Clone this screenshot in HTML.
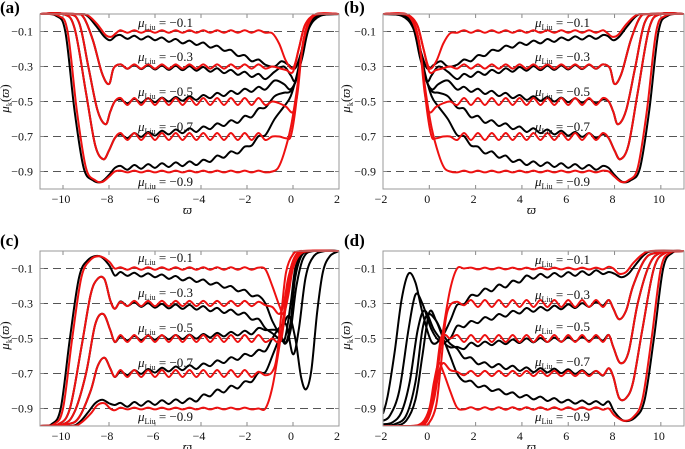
<!DOCTYPE html>
<html><head><meta charset="utf-8">
<style>
html,body{margin:0;padding:0;background:#fff;}
svg{display:block;font-family:"Liberation Serif",serif;}
svg text{font-family:"Liberation Serif",serif;}
</style></head>
<body>
<svg id="chart" width="685" height="449" viewBox="0 0 685 449" font-family="Liberation Serif, serif" xmlns="http://www.w3.org/2000/svg"></svg>
<script>
// ---------- data ----------
const rippleX = [-7.5,-7.2,-6.9,-6.6,-6.3,-6.0,-5.7,-5.4,-5.1,-4.8,-4.5,-4.2,-3.9,-3.6,-3.3,-3.0,-2.7,-2.4,-2.1,-1.8,-1.5,-1.2];
const yTicks = [-0.1,-0.3,-0.5,-0.7,-0.9];
const yTickLabels = ["\u22120.1","\u22120.3","\u22120.5","\u22120.7","\u22120.9"];
const xTicksLeft = [-10,-8,-6,-4,-2,0,2];
const xTicksRight = [-2,0,2,4,6,8,10];
const muLabels = ["\u22120.1","\u22120.3","\u22120.5","\u22120.7","\u22120.9"];

// panel (a) red curves
const aRedPre = [
 [[-11,0],[-9.3,0],[-8.9,-0.01],[-8.5,-0.06],[-8.15,-0.12],[-7.9,-0.13],[-7.7,-0.11]],
 [[-11,0],[-9.5,0],[-9.1,-0.02],[-8.7,-0.15],[-8.3,-0.34],[-8.0,-0.40],[-7.8,-0.31]],
 [[-11,0],[-9.8,0],[-9.3,-0.05],[-8.9,-0.3],[-8.5,-0.55],[-8.15,-0.63],[-7.95,-0.56],[-7.75,-0.50]],
 [[-11,0],[-10,0],[-9.5,-0.08],[-9.0,-0.45],[-8.6,-0.75],[-8.25,-0.83],[-8.0,-0.78],[-7.75,-0.71]],
 [[-11,0],[-10.2,-0.01],[-9.8,-0.1],[-9.4,-0.55],[-9.0,-0.88],[-8.6,-0.95],[-8.3,-0.96],[-8.0,-0.93],[-7.75,-0.9]]
];
const aRedRip = [
 [-0.093,-0.107,-0.093,-0.107,-0.093,-0.107,-0.093,-0.107,-0.093,-0.107,-0.093,-0.107,-0.093,-0.107,-0.093,-0.107,-0.093,-0.107,-0.093,-0.107,-0.093,-0.107],
 [-0.288,-0.312,-0.288,-0.312,-0.288,-0.312,-0.288,-0.312,-0.288,-0.312,-0.288,-0.312,-0.288,-0.312,-0.288,-0.312,-0.288,-0.312,-0.288,-0.312,-0.288,-0.312],
 [-0.48,-0.52,-0.48,-0.52,-0.48,-0.52,-0.48,-0.52,-0.48,-0.52,-0.48,-0.52,-0.48,-0.52,-0.48,-0.52,-0.48,-0.52,-0.48,-0.52,-0.48,-0.52],
 [-0.68,-0.72,-0.68,-0.72,-0.68,-0.72,-0.68,-0.72,-0.68,-0.72,-0.68,-0.72,-0.68,-0.72,-0.68,-0.72,-0.68,-0.72,-0.68,-0.72,-0.68,-0.72],
 [-0.895,-0.905,-0.895,-0.905,-0.895,-0.905,-0.895,-0.905,-0.895,-0.905,-0.895,-0.905,-0.895,-0.905,-0.895,-0.905,-0.895,-0.905,-0.895,-0.905,-0.895,-0.905]
];
const aRedPost = [
 [[-0.9,-0.11],[-0.6,-0.17],[-0.3,-0.27],[0,-0.31],[0.25,-0.2],[0.5,-0.07],[0.8,-0.015],[1.2,0],[2,0]],
 [[-0.9,-0.3],[-0.6,-0.31],[-0.3,-0.32],[0,-0.33],[0.25,-0.2],[0.5,-0.07],[0.8,-0.015],[1.2,0],[2,0]],
 [[-0.9,-0.5],[-0.6,-0.51],[-0.3,-0.53],[0,-0.56],[0.2,-0.45],[0.45,-0.15],[0.8,-0.02],[1.2,0],[2,0]],
 [[-0.9,-0.7],[-0.6,-0.7],[-0.3,-0.71],[-0.1,-0.7],[0.1,-0.55],[0.35,-0.25],[0.6,-0.07],[1,0],[2,0]],
 [[-0.9,-0.9],[-0.65,-0.88],[-0.4,-0.8],[-0.1,-0.65],[0.15,-0.45],[0.4,-0.2],[0.7,-0.05],[1.1,0],[2,0]]
];
// panel (a) black curves
const aBlackPre = [
 [[-11,0],[-9.35,0],[-8.95,-0.01],[-8.55,-0.07],[-8.2,-0.13],[-7.95,-0.15],[-7.7,-0.125]],
 [[-11,0],[-9.5,0],[-9.1,-0.02],[-8.7,-0.15],[-8.3,-0.34],[-8.0,-0.40],[-7.8,-0.31]],
 [[-11,0],[-9.8,0],[-9.3,-0.05],[-8.9,-0.3],[-8.5,-0.55],[-8.15,-0.63],[-7.95,-0.56],[-7.75,-0.50]],
 [[-11,0],[-10,0],[-9.5,-0.08],[-9.0,-0.45],[-8.6,-0.75],[-8.25,-0.83],[-8.0,-0.78],[-7.75,-0.71]],
 [[-11,0],[-10.3,-0.01],[-9.9,-0.1],[-9.5,-0.55],[-9.1,-0.88],[-8.7,-0.95],[-8.35,-0.96],[-8.0,-0.92],[-7.75,-0.88]]
];
const aBlackRip = [
 [-0.120,-0.142,-0.124,-0.146,-0.128,-0.150,-0.134,-0.159,-0.143,-0.168,-0.152,-0.177,-0.163,-0.192,-0.181,-0.210,-0.205,-0.240,-0.235,-0.270,-0.260,-0.290],
 [-0.288,-0.313,-0.290,-0.315,-0.292,-0.317,-0.294,-0.319,-0.296,-0.321,-0.298,-0.324,-0.303,-0.330,-0.310,-0.338,-0.319,-0.348,-0.330,-0.360,-0.342,-0.372],
 [-0.488,-0.510,-0.485,-0.507,-0.482,-0.504,-0.478,-0.500,-0.474,-0.496,-0.470,-0.491,-0.463,-0.481,-0.451,-0.469,-0.439,-0.457,-0.427,-0.445,-0.416,-0.432],
 [-0.688,-0.709,-0.681,-0.702,-0.674,-0.695,-0.667,-0.688,-0.660,-0.681,-0.653,-0.674,-0.643,-0.658,-0.625,-0.640,-0.607,-0.622,-0.582,-0.590,-0.540,-0.535],
 [-0.868,-0.890,-0.863,-0.884,-0.858,-0.879,-0.853,-0.874,-0.848,-0.869,-0.842,-0.863,-0.833,-0.845,-0.809,-0.821,-0.785,-0.797,-0.758,-0.752,-0.698,-0.692]
];
const aBlackPost = [
 [[-0.8,-0.3],[-0.5,-0.27],[-0.2,-0.29],[0.1,-0.31],[0.4,-0.2],[0.7,-0.06],[1.1,-0.01],[2,0]],
 [[-0.8,-0.33],[-0.4,-0.3],[-0.1,-0.35],[0.1,-0.38],[0.4,-0.25],[0.7,-0.08],[1.2,-0.01],[2,0]],
 [[-0.8,-0.38],[-0.4,-0.40],[-0.1,-0.43],[0.2,-0.35],[0.5,-0.15],[0.8,-0.04],[1.2,0],[2,0]],
 [[-0.8,-0.47],[-0.4,-0.45],[-0.1,-0.44],[0.2,-0.35],[0.5,-0.15],[0.8,-0.03],[1.2,0],[2,0]],
 [[-0.8,-0.6],[-0.4,-0.53],[-0.1,-0.47],[0.2,-0.33],[0.5,-0.13],[0.8,-0.03],[1.2,0],[2,0]]
];

// panel (c) red curves
const cRedPre = [
 [[-11,-1],[-10.4,-0.99],[-10,-0.9],[-9.6,-0.5],[-9.2,-0.15],[-8.8,-0.05],[-8.4,-0.03],[-8.0,-0.06],[-7.75,-0.1]],
 [[-11,-1],[-10.2,-0.99],[-9.7,-0.9],[-9.2,-0.55],[-8.8,-0.25],[-8.5,-0.16],[-8.2,-0.16],[-7.95,-0.28],[-7.75,-0.33]],
 [[-11,-1],[-10,-0.99],[-9.5,-0.92],[-9.0,-0.7],[-8.6,-0.42],[-8.25,-0.36],[-7.95,-0.45],[-7.75,-0.52]],
 [[-11,-1],[-9.8,-0.99],[-9.3,-0.95],[-8.8,-0.8],[-8.5,-0.66],[-8.2,-0.61],[-7.95,-0.67],[-7.75,-0.72]],
 [[-11,-1],[-9.6,-1],[-9.2,-0.98],[-8.8,-0.93],[-8.5,-0.88],[-8.2,-0.87],[-7.95,-0.9],[-7.75,-0.91]]
];
const cRedRip = [
 [-0.093,-0.107,-0.093,-0.107,-0.093,-0.107,-0.093,-0.107,-0.093,-0.107,-0.093,-0.107,-0.093,-0.107,-0.093,-0.107,-0.093,-0.107,-0.093,-0.107,-0.095,-0.105],
 [-0.29,-0.315,-0.285,-0.315,-0.285,-0.315,-0.285,-0.315,-0.285,-0.315,-0.285,-0.315,-0.285,-0.315,-0.285,-0.315,-0.285,-0.315,-0.285,-0.315,-0.29,-0.31],
 [-0.48,-0.52,-0.48,-0.52,-0.48,-0.52,-0.48,-0.52,-0.48,-0.52,-0.48,-0.52,-0.48,-0.52,-0.48,-0.52,-0.48,-0.52,-0.48,-0.52,-0.48,-0.52],
 [-0.68,-0.72,-0.68,-0.72,-0.68,-0.72,-0.68,-0.72,-0.68,-0.72,-0.68,-0.72,-0.68,-0.72,-0.68,-0.72,-0.68,-0.72,-0.68,-0.72,-0.69,-0.71],
 [-0.895,-0.905,-0.895,-0.905,-0.895,-0.905,-0.895,-0.905,-0.895,-0.905,-0.895,-0.905,-0.895,-0.905,-0.895,-0.905,-0.895,-0.905,-0.895,-0.905,-0.9,-0.9]
];
const cRedPost = [
 [[-0.9,-0.2],[-0.6,-0.31],[-0.4,-0.36],[-0.2,-0.25],[0,-0.1],[0.3,-0.02],[0.8,0],[2,0]],
 [[-0.9,-0.32],[-0.6,-0.36],[-0.4,-0.3],[-0.2,-0.15],[0.1,-0.03],[0.5,0],[2,0]],
 [[-0.9,-0.5],[-0.7,-0.52],[-0.5,-0.5],[-0.3,-0.3],[-0.1,-0.1],[0.2,-0.01],[0.6,0],[2,0]],
 [[-0.9,-0.69],[-0.7,-0.6],[-0.5,-0.35],[-0.3,-0.12],[0,-0.02],[0.4,0],[2,0]],
 [[-0.9,-0.78],[-0.6,-0.55],[-0.3,-0.27],[0,-0.07],[0.3,-0.01],[0.7,0],[2,0]]
];
// panel (c) black curves
const cBlackPre = [
 [[-11,-1],[-10.5,-0.99],[-10.1,-0.9],[-9.7,-0.5],[-9.3,-0.15],[-8.9,-0.05],[-8.4,-0.03],[-8.0,-0.08],[-7.75,-0.14]],
 [[-11,-1],[-10.2,-0.99],[-9.7,-0.9],[-9.2,-0.55],[-8.8,-0.25],[-8.5,-0.16],[-8.2,-0.16],[-7.95,-0.28],[-7.75,-0.33]],
 [[-11,-1],[-10,-0.99],[-9.5,-0.92],[-9.0,-0.7],[-8.6,-0.42],[-8.25,-0.36],[-7.95,-0.45],[-7.75,-0.52]],
 [[-11,-1],[-9.8,-0.99],[-9.3,-0.95],[-8.8,-0.8],[-8.5,-0.66],[-8.2,-0.61],[-7.95,-0.67],[-7.75,-0.72]],
 [[-11,-1],[-9.7,-1],[-9.3,-0.98],[-8.9,-0.92],[-8.6,-0.87],[-8.3,-0.85],[-8.0,-0.87],[-7.75,-0.88]]
];
const cBlackRip = [
 [-0.120,-0.142,-0.124,-0.146,-0.128,-0.150,-0.134,-0.159,-0.143,-0.168,-0.152,-0.177,-0.163,-0.192,-0.181,-0.210,-0.200,-0.230,-0.222,-0.258,-0.255,-0.300],
 [-0.288,-0.314,-0.293,-0.319,-0.298,-0.324,-0.302,-0.328,-0.306,-0.331,-0.308,-0.335,-0.315,-0.344,-0.325,-0.354,-0.335,-0.364,-0.353,-0.392,-0.388,-0.442],
 [-0.488,-0.511,-0.486,-0.509,-0.484,-0.507,-0.482,-0.505,-0.480,-0.503,-0.478,-0.501,-0.474,-0.494,-0.468,-0.488,-0.462,-0.482,-0.456,-0.476,-0.440,-0.452],
 [-0.688,-0.709,-0.681,-0.702,-0.674,-0.695,-0.667,-0.688,-0.660,-0.681,-0.653,-0.674,-0.643,-0.658,-0.625,-0.640,-0.607,-0.622,-0.588,-0.600,-0.565,-0.572],
 [-0.868,-0.890,-0.863,-0.884,-0.858,-0.879,-0.853,-0.874,-0.848,-0.869,-0.842,-0.860,-0.820,-0.830,-0.792,-0.808,-0.770,-0.785,-0.745,-0.748,-0.695,-0.692]
];
const cBlackPost = [
 [[-0.9,-0.4],[-0.6,-0.47],[-0.3,-0.52],[-0.1,-0.4],[0.1,-0.15],[0.4,-0.02],[0.8,0],[2,0]],
 [[-0.9,-0.47],[-0.6,-0.5],[-0.35,-0.5],[-0.1,-0.3],[0.1,-0.1],[0.4,-0.02],[0.8,0],[2,0]],
 [[-0.9,-0.45],[-0.6,-0.46],[-0.35,-0.53],[-0.1,-0.45],[0.15,-0.2],[0.45,-0.04],[0.9,0],[2,0]],
 [[-0.9,-0.5],[-0.6,-0.44],[-0.3,-0.42],[0,-0.59],[0.25,-0.45],[0.55,-0.15],[0.9,-0.03],[1.4,0],[2,0]],
 [[-0.9,-0.6],[-0.6,-0.5],[-0.2,-0.37],[0.1,-0.5],[0.35,-0.72],[0.57,-0.79],[0.8,-0.68],[1.05,-0.35],[1.3,-0.12],[1.6,-0.03],[2,0]]
];
// panel (d) black right-end segments (in mirrored, flipped (c) coordinates)
const dBlackPost = [
 [[-0.9,-0.4],[-0.6,-0.5],[-0.3,-0.6],[0,-0.65],[0.3,-0.4],[0.6,-0.15],[1.0,-0.03],[1.5,0],[2,0]],
 [[-0.9,-0.47],[-0.6,-0.52],[-0.3,-0.6],[0.05,-0.64],[0.3,-0.55],[0.6,-0.25],[1.0,-0.06],[1.5,-0.01],[2,0]],
 [[-0.9,-0.45],[-0.6,-0.48],[-0.2,-0.55],[0.2,-0.66],[0.5,-0.55],[0.85,-0.25],[1.2,-0.08],[1.6,-0.02],[2,-0.01]],
 [[-0.9,-0.5],[-0.5,-0.48],[-0.1,-0.55],[0.3,-0.7],[0.6,-0.75],[0.9,-0.55],[1.3,-0.2],[1.7,-0.06],[2,-0.03]],
 [[-0.9,-0.6],[-0.5,-0.5],[-0.1,-0.48],[0.3,-0.65],[0.6,-0.82],[0.9,-0.87],[1.2,-0.72],[1.5,-0.42],[1.8,-0.17],[2,-0.07]]
];

// ---------- rendering ----------
const NS = "http://www.w3.org/2000/svg";
const svg = document.getElementById('chart');
function mk(tag, attrs, parent){ const e=document.createElementNS(NS,tag); for(const k in attrs) e.setAttribute(k,attrs[k]); (parent||svg).appendChild(e); return e; }
const FF = 'Liberation Serif, serif';

const panels = [
 {id:'a', x0:40, x1:339, y0:14, y1:189, dmin:-11, dmax:2, ticks:xTicksLeft, label:'(a)', lx:0, ly:13, ylx:9, labX:138, labY:[27,61,96,131,186], mirror:false, flip:false, red:[aRedPre,aRedRip,aRedPost], black:[aBlackPre,aBlackRip,aBlackPost]},
 {id:'b', x0:383, x1:684, y0:14, y1:189, dmin:-2, dmax:11, ticks:xTicksRight, label:'(b)', lx:344, ly:13, ylx:350, labX:535, labY:[27,61,96,131,186], mirror:true, flip:false, red:[aRedPre,aRedRip,aRedPost], black:[aBlackPre,aBlackRip,aBlackPost]},
 {id:'c', x0:40, x1:339, y0:251, y1:426, dmin:-11, dmax:2, ticks:xTicksLeft, label:'(c)', lx:0, ly:246, ylx:9, labX:138, labY:[262,297,332,367,421], mirror:false, flip:false, red:[cRedPre,cRedRip,cRedPost], black:[cBlackPre,cBlackRip,cBlackPost]},
 {id:'d', x0:383, x1:684, y0:251, y1:426, dmin:-2, dmax:11, ticks:xTicksRight, label:'(d)', lx:344, ly:246, ylx:350, labX:535, labY:[264,299,331,366,421], mirror:true, flip:true, red:[cRedPre,cRedRip,cRedPost], black:[cBlackPre,cBlackRip,dBlackPost]}
];

function smoothPath(pts){
  let d = 'M'+pts[0][0].toFixed(2)+','+pts[0][1].toFixed(2);
  for(let i=0;i<pts.length-1;i++){
    const p0=pts[Math.max(0,i-1)], p1=pts[i], p2=pts[i+1], p3=pts[Math.min(pts.length-1,i+2)];
    const c1x=p1[0]+(p2[0]-p0[0])/6, c1y=p1[1]+(p2[1]-p0[1])/6;
    const c2x=p2[0]-(p3[0]-p1[0])/6, c2y=p2[1]-(p3[1]-p1[1])/6;
    d+=' C'+c1x.toFixed(2)+','+c1y.toFixed(2)+' '+c2x.toFixed(2)+','+c2y.toFixed(2)+' '+p2[0].toFixed(2)+','+p2[1].toFixed(2);
  }
  return d;
}

panels.forEach(P=>{
  const g = mk('g',{});
  
  
  const sx = v => P.x0 + (v-P.dmin)/(P.dmax-P.dmin)*(P.x1-P.x0);
  const sy = v => P.y0 + (0-v)/1*(P.y1-P.y0);
  const clipId='clip-'+P.id;
  const cp = mk('clipPath',{id:clipId},g); mk('rect',{x:P.x0,y:P.y0-2,width:P.x1-P.x0,height:P.y1-P.y0+2},cp);

  yTicks.forEach((t,i)=>{
    const l = mk('line',{x1:P.x0,x2:P.x1,y1:sy(t),y2:sy(t),stroke:'#555','stroke-width':1,'stroke-dasharray':'8,5'},g);
    
    
    const tx = mk('text',{x:P.x0-7,y:sy(t)+4,'text-anchor':'end','font-size':12,fill:'#111','font-family':FF},g);
    tx.textContent = yTickLabels[i];
    
    
    mk('line',{x1:P.x0,x2:P.x0+4,y1:sy(t),y2:sy(t),stroke:'#888'},g);
    mk('line',{x1:P.x1,x2:P.x1-4,y1:sy(t),y2:sy(t),stroke:'#888'},g);
  });
  P.ticks.forEach(t=>{
    const x = sx(t);
    mk('line',{x1:x,x2:x,y1:P.y1,y2:P.y1-4,stroke:'#888'},g);
    mk('line',{x1:x,x2:x,y1:P.y0,y2:P.y0+4,stroke:'#888'},g);
    const tx = mk('text',{x:x-2,y:P.y1+14,'text-anchor':'middle','font-size':12,fill:'#111','font-family':FF},g);
    tx.textContent = (t<0?'\u2212':'')+Math.abs(t);
    
    
  });

  const lines = mk('g',{'clip-path':'url(#'+clipId+')'},g);
  function drawSet(set,color,name){
    const [pre,rip,post]=set;
    for(let k=0;k<pre.length;k++){
      let pts = pre[k].concat(rippleX.map((x,j)=>[x,rip[k][j]]), post[k]);
      if(P.mirror){ pts = pts.map(p=>[-p[0], P.flip ? -1-p[1] : p[1]]).reverse(); }
      const px = pts.map(p=>[sx(p[0]),sy(p[1])]);
      const path = mk('path',{d:smoothPath(px),fill:'none',stroke:color,'stroke-width':2,'stroke-linejoin':'round'},lines);
      
      
    }
  }
  drawSet(P.black,'#000','black-curve');
  drawSet(P.red,'#ee1111','red-curve');

  const fr = mk('rect',{x:P.x0,y:P.y0,width:P.x1-P.x0,height:P.y1-P.y0,fill:'none',stroke:'#999','stroke-width':1},g);
  
  

  muLabels.forEach((m,i)=>{
    const t = mk('text',{x:P.labX,y:P.labY[i],'font-size':13,fill:'#111','font-family':FF},g);
    
    
    const s1=mk('tspan',{'font-style':'italic'},t); s1.textContent='\u03bc';
    const s2=mk('tspan',{'font-size':8,dy:3},t); s2.textContent='Liu';
    const s3=mk('tspan',{dy:-3},t); s3.textContent=' = '+m;
  });

  const pl = mk('text',{x:P.lx,y:P.ly,'font-size':17,'font-weight':'bold',fill:'#000','font-family':FF},g);
  pl.textContent = P.label;
  
  

  const xt = mk('text',{x:(P.x0+P.x1)/2-2,y:P.y1+25,'text-anchor':'middle','font-size':13,'font-style':'italic',fill:'#111','font-family':FF},g);
  xt.textContent='\u03d6';
  
  

  const cy=(P.y0+P.y1)/2-3;
  const yt = mk('text',{x:P.ylx,y:cy,'text-anchor':'middle','font-size':13,fill:'#111','font-family':FF,transform:'rotate(-90 '+P.ylx+' '+cy+')'},g);
  
  
  const a1=mk('tspan',{'font-style':'italic'},yt); a1.textContent='\u03bc';
  const a2=mk('tspan',{'font-size':8,dy:3},yt); a2.textContent='k';
  const a3=mk('tspan',{dy:-3},yt); a3.textContent='(';
  const a4=mk('tspan',{'font-style':'italic'},yt); a4.textContent='\u03d6';
  const a5=mk('tspan',{},yt); a5.textContent=')';
});
</script>
</body></html>
